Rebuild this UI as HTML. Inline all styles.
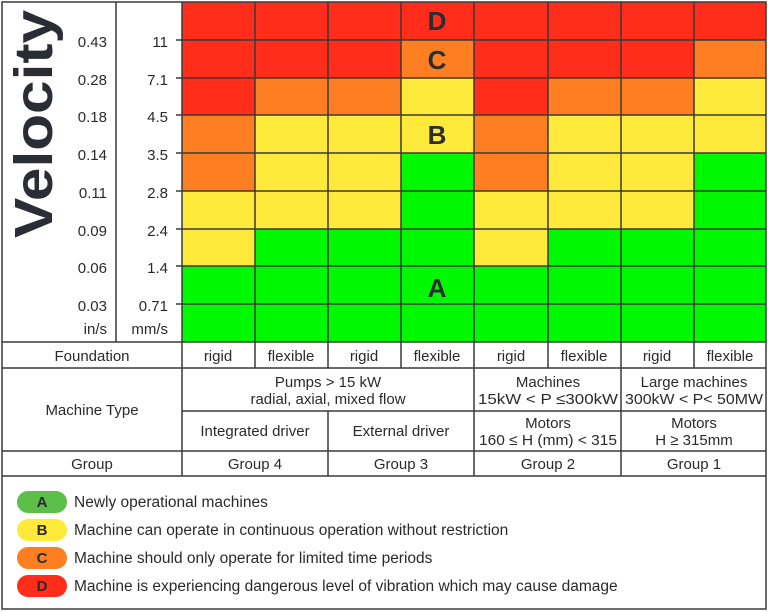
<!DOCTYPE html>
<html><head><meta charset="utf-8"><style>
html,body{margin:0;padding:0;background:#fff;}
svg{display:block;}
text{font-family:"Liberation Sans",sans-serif;fill:#2a2a2a;}
</style></head><body>
<svg width="768" height="612" viewBox="0 0 768 612" xmlns="http://www.w3.org/2000/svg">
<defs>
<g id="pa">
<rect x="0" y="2" width="74" height="113" fill="#ff2d1a"/>
<rect x="0" y="115" width="74" height="76" fill="#fd7f22"/>
<rect x="0" y="191" width="74" height="75" fill="#ffe93a"/>
<rect x="0" y="266" width="74" height="76" fill="#00f800"/>
</g>
<g id="pb">
<rect x="0" y="2" width="74" height="76" fill="#ff2d1a"/>
<rect x="0" y="78" width="74" height="37" fill="#fd7f22"/>
<rect x="0" y="115" width="74" height="114" fill="#ffe93a"/>
<rect x="0" y="229" width="74" height="113" fill="#00f800"/>
</g>
<g id="pc">
<rect x="0" y="2" width="74" height="38" fill="#ff2d1a"/>
<rect x="0" y="40" width="74" height="38" fill="#fd7f22"/>
<rect x="0" y="78" width="74" height="75" fill="#ffe93a"/>
<rect x="0" y="153" width="74" height="189" fill="#00f800"/>
</g>
</defs>
<use href="#pa" x="182"/>
<use href="#pb" x="255"/>
<use href="#pb" x="328"/>
<use href="#pc" x="401"/>
<use href="#pa" x="474"/>
<use href="#pb" x="548"/>
<use href="#pb" x="621"/>
<use href="#pc" x="694"/>
<rect x="766" y="0" width="2" height="612" fill="#fff"/>
<g stroke="#3a3a3a" stroke-width="1.5" fill="none">
<rect x="2" y="2" width="764" height="607"/>
<line x1="116" y1="2" x2="116" y2="342"/>
<line x1="182" y1="2" x2="182" y2="476"/>
<line x1="255" y1="2" x2="255" y2="368"/>
<line x1="328" y1="2" x2="328" y2="368"/>
<line x1="328" y1="411" x2="328" y2="476"/>
<line x1="401" y1="2" x2="401" y2="368"/>
<line x1="474" y1="2" x2="474" y2="476"/>
<line x1="548" y1="2" x2="548" y2="368"/>
<line x1="621" y1="2" x2="621" y2="476"/>
<line x1="694" y1="2" x2="694" y2="368"/>
<line x1="176" y1="40" x2="766" y2="40"/>
<line x1="176" y1="78" x2="766" y2="78"/>
<line x1="176" y1="115" x2="766" y2="115"/>
<line x1="176" y1="153" x2="766" y2="153"/>
<line x1="176" y1="191" x2="766" y2="191"/>
<line x1="176" y1="229" x2="766" y2="229"/>
<line x1="176" y1="266" x2="766" y2="266"/>
<line x1="176" y1="304" x2="766" y2="304"/>
<line x1="2" y1="342" x2="766" y2="342"/>
<line x1="2" y1="368" x2="766" y2="368"/>
<line x1="182" y1="411" x2="766" y2="411"/>
<line x1="2" y1="451" x2="766" y2="451"/>
<line x1="2" y1="476" x2="766" y2="476"/>
</g>
<text transform="translate(52,124) rotate(-90)" text-anchor="middle" font-size="54" font-weight="bold" textLength="228" lengthAdjust="spacingAndGlyphs" style="fill:#2a2d34">Velocity</text>
<g font-size="15" text-anchor="end">
<text x="107" y="47">0.43</text><text x="168" y="47">11</text>
<text x="107" y="85">0.28</text><text x="168" y="85">7.1</text>
<text x="107" y="122">0.18</text><text x="168" y="122">4.5</text>
<text x="107" y="160">0.14</text><text x="168" y="160">3.5</text>
<text x="107" y="198">0.11</text><text x="168" y="198">2.8</text>
<text x="107" y="236">0.09</text><text x="168" y="236">2.4</text>
<text x="107" y="273">0.06</text><text x="168" y="273">1.4</text>
<text x="107" y="311">0.03</text><text x="168" y="311">0.71</text>
<text x="107" y="334">in/s</text><text x="168" y="334">mm/s</text>
</g>
<g font-size="26" font-weight="bold" text-anchor="middle">
<text x="437" y="30" style="fill:#2a2d34">D</text>
<text x="437" y="69" style="fill:#2a2d34">C</text>
<text x="437" y="144" style="fill:#2a2d34">B</text>
<text x="437" y="297" style="fill:#2a2d34">A</text>
</g>
<g font-size="15" text-anchor="middle">
<text x="92" y="361">Foundation</text>
<text x="218" y="361">rigid</text><text x="291" y="361">flexible</text>
<text x="364" y="361">rigid</text><text x="437" y="361">flexible</text>
<text x="511" y="361">rigid</text><text x="584" y="361">flexible</text>
<text x="657" y="361">rigid</text><text x="730" y="361">flexible</text>
<text x="92" y="415">Machine Type</text>
<text x="328" y="387">Pumps  &gt; 15 kW</text>
<text x="328" y="404">radial, axial, mixed flow</text>
<text x="548" y="387">Machines</text>
<text x="548" y="404" textLength="140" lengthAdjust="spacingAndGlyphs">15kW &lt; P ≤300kW</text>
<text x="694" y="387">Large machines</text>
<text x="694" y="404" textLength="138" lengthAdjust="spacingAndGlyphs">300kW &lt; P&lt; 50MW</text>
<text x="255" y="436">Integrated driver</text>
<text x="401" y="436">External driver</text>
<text x="548" y="428">Motors</text>
<text x="548" y="445" textLength="138" lengthAdjust="spacingAndGlyphs">160 ≤ H (mm) &lt; 315</text>
<text x="694" y="428">Motors</text>
<text x="694" y="445">H ≥ 315mm</text>
<text x="92" y="469">Group</text>
<text x="255" y="469">Group 4</text>
<text x="401" y="469">Group 3</text>
<text x="548" y="469">Group 2</text>
<text x="694" y="469">Group 1</text>
</g>
<rect x="17" y="491" width="50" height="22" rx="11" fill="#5cbf4a"/>
<rect x="17" y="519" width="50" height="22" rx="11" fill="#ffe93a"/>
<rect x="17" y="547" width="50" height="22" rx="11" fill="#fd7f22"/>
<rect x="17" y="575" width="50" height="22" rx="11" fill="#ff2d1a"/>
<g font-size="15" font-weight="bold" text-anchor="middle">
<text x="42" y="507">A</text><text x="42" y="535">B</text><text x="42" y="563">C</text><text x="42" y="591">D</text>
</g>
<g font-size="15.5">
<text x="74" y="507">Newly operational machines</text>
<text x="74" y="535">Machine can operate in continuous operation without restriction</text>
<text x="74" y="563">Machine should only operate for limited time periods</text>
<text x="74" y="591">Machine is experiencing dangerous level of vibration which may cause damage</text>
</g>
</svg>
</body></html>
